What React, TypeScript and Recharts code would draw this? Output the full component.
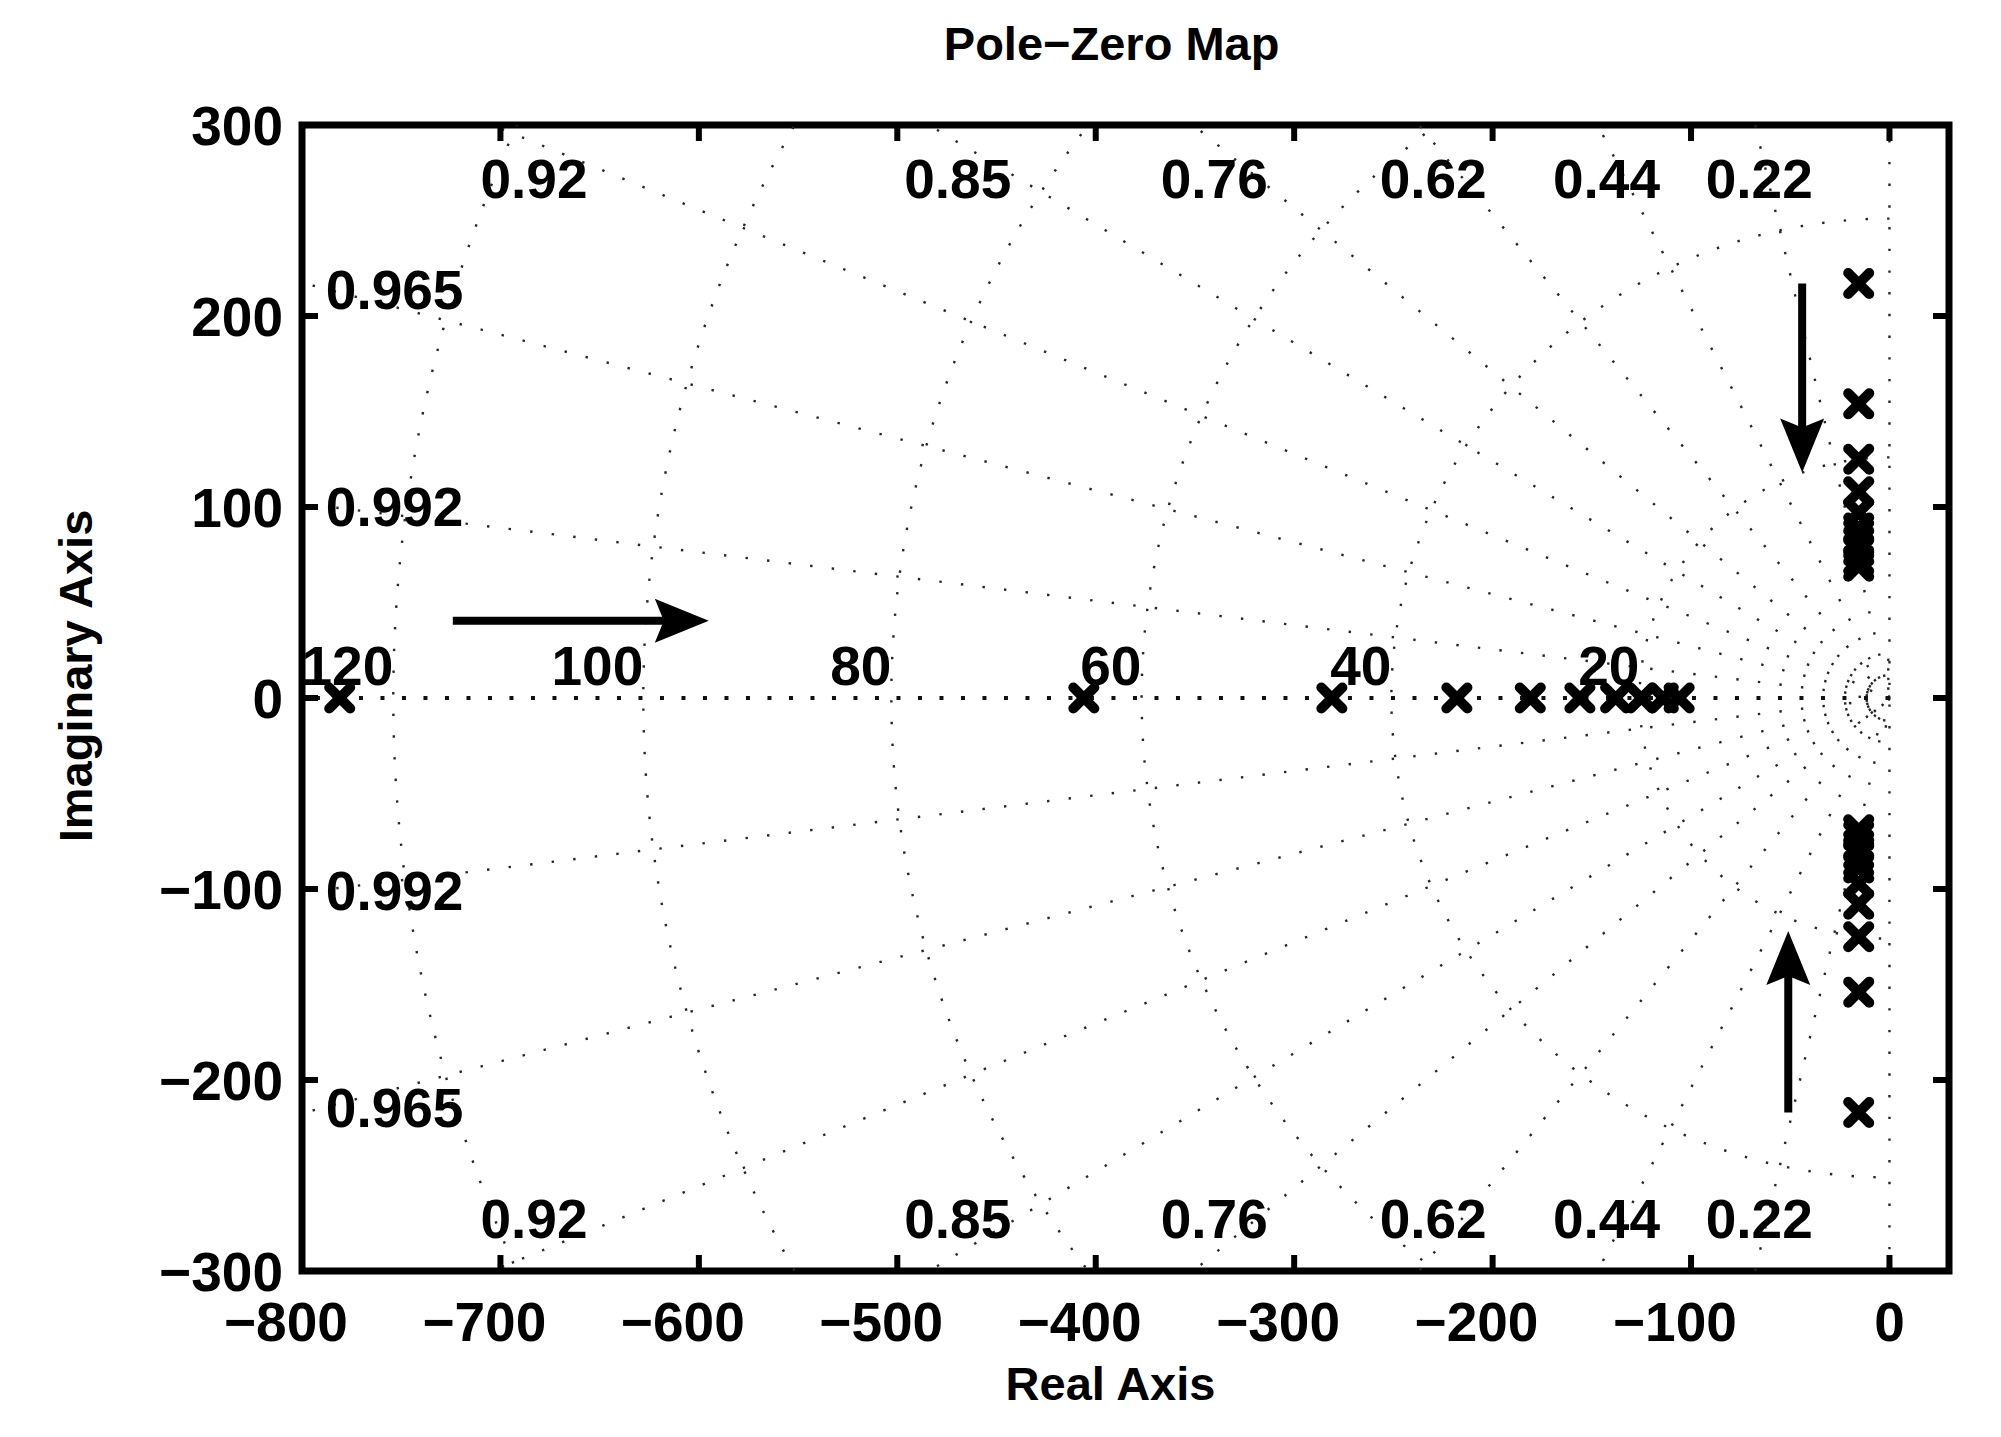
import React from 'react';
import { ScatterChart, Scatter, XAxis, YAxis, ReferenceLine, ReferenceDot, ReferenceArea, Label } from 'recharts';

const FONT = '"Liberation Sans", Arial, Helvetica, sans-serif';

// ---- data ----
const realPoleRe = [-781, -406, -281, -218, -181, -156, -138, -125, -114, -106];
const complexPoleRe = [-15.5, -15.5, -15.5, -15.5, -15.5, -15.5, -15.5, -15.5, -15.5, -15.5];
const complexPoleIm = [217, 154, 125, 108, 97, 89, 82, 77, 72, 69];

const xTicks = [-800, -700, -600, -500, -400, -300, -200, -100, 0];
const yTicks = [-300, -200, -100, 0, 100, 200, 300];

const dampingValues = [0.22, 0.44, 0.62, 0.76, 0.85, 0.92, 0.965, 0.992];
const dampingLabels = ['0.22', '0.44', '0.62', '0.76', '0.85', '0.92', '0.965', '0.992'];
const topLabelDamping = [0.22, 0.44, 0.62, 0.76, 0.85, 0.92];
const sideLabelDamping = [0.965, 0.992];

const wnRadii = [126, 251, 377, 503, 628, 754];
const wnLabels = ['20', '40', '60', '80', '100', '120'];
const smallRadii = [5, 10, 15, 20];

const arrowTailX = [-724, -44, -51];
const arrowTailY = [40.5, 217, -217];
const arrowTipX = [-595, -44, -51];
const arrowTipY = [40.5, 118, -122];

const X_MIN = -800;
const X_MAX = 30;
const Y_MIN = -300;
const Y_MAX = 300;

// ---- derived tables ----
const poles = [
  ...realPoleRe.map((x) => ({ x, y: 0 })),
  ...complexPoleRe.map((x, i) => ({ x, y: complexPoleIm[i] })),
  ...complexPoleRe.map((x, i) => ({ x, y: -complexPoleIm[i] })),
];

const GRID = '#262626';
const GW = 2.4;
const DOT = '2.4 19.3';
const TICK_FS = 55;

const fmt = (v: number) => (v < 0 ? '\u2212' + Math.abs(v) : String(v));

const textStyle = { fontFamily: FONT, fontWeight: 700 as const, fill: '#000' };

const PoleMark = (props: any) => {
  const { cx, cy } = props;
  const s = 10.5;
  return (
    <g stroke="#000" strokeWidth={10} strokeLinecap="round">
      <line x1={cx - s} y1={cy - s} x2={cx + s} y2={cy + s} />
      <line x1={cx - s} y1={cy + s} x2={cx + s} y2={cy - s} />
    </g>
  );
};

// digits centred on the tick, minus sign hanging to the left
const BottomTick = (props: any) => {
  const { x, y, payload } = props;
  const digits = String(Math.abs(payload.value)).length;
  const half = (digits * 0.556 * TICK_FS) / 2;
  return (
    <g>
      <line x1={x} y1={y} x2={x} y2={y - 16} stroke="#000" strokeWidth={6} />
      <text x={x + half} y={y + 70} textAnchor="end" fontSize={TICK_FS} {...textStyle}>
        {fmt(payload.value)}
      </text>
    </g>
  );
};

const LeftTick = (props: any) => {
  const { x, y, payload } = props;
  return (
    <g>
      <line x1={x} y1={y} x2={x + 16} y2={y} stroke="#000" strokeWidth={6} />
      <text x={x - 19} y={y + 20} textAnchor="end" fontSize={TICK_FS} {...textStyle}>
        {fmt(payload.value)}
      </text>
    </g>
  );
};

const TopTickShape = (p: any) => <line x1={p.cx} y1={p.cy} x2={p.cx} y2={p.cy + 16} stroke="#000" strokeWidth={6} />;
const RightTickShape = (p: any) => <line x1={p.cx} y1={p.cy} x2={p.cx - 16} y2={p.cy} stroke="#000" strokeWidth={6} />;

// left half of a natural-frequency circle (s-plane grid)
const ArcShape = (p: any) => {
  const { x1, y1, x2, y2, clipPath } = p;
  const rx = Math.abs(x1 - x2);
  const ry = Math.abs(y1 - y2);
  const d = `M ${x1} ${y1 - ry} A ${rx} ${ry} 0 0 0 ${x1} ${y1 + ry}`;
  return (
    <g clipPath={clipPath}>
      <path d={d} fill="none" stroke={GRID} strokeWidth={GW} strokeDasharray={DOT} />
    </g>
  );
};

const ArrowShape = (p: any) => {
  const { x1, y1, x2, y2 } = p;
  const dx = x2 - x1;
  const dy = y2 - y1;
  const L = Math.hypot(dx, dy) || 1;
  const ux = dx / L;
  const uy = dy / L;
  const nx = -uy;
  const ny = ux;
  const hl = 54;
  const hw = 22;
  const notch = 9;
  const bx = x2 - ux * hl;
  const by = y2 - uy * hl;
  const mx = x2 - ux * (hl - notch);
  const my = y2 - uy * (hl - notch);
  const pts = [
    [x2, y2],
    [bx + nx * hw, by + ny * hw],
    [mx, my],
    [bx - nx * hw, by - ny * hw],
  ]
    .map((q) => q.join(','))
    .join(' ');
  return (
    <g>
      <line x1={x1} y1={y1} x2={mx + ux * 2} y2={my + uy * 2} stroke="#000" strokeWidth={8} />
      <polygon points={pts} fill="#000" />
    </g>
  );
};

const makeText = (label: string, anchor: 'start' | 'middle' | 'end', dx: number, dy: number, size = 55) => (p: any) => (
  <text x={p.cx + dx} y={p.cy + dy} textAnchor={anchor} fontSize={size} {...textStyle}>
    {label}
  </text>
);

export default function App() {
  const W = 2001;
  const H = 1437;
  return (
    <div style={{ position: 'absolute', left: 0, top: 0, width: W, height: H, background: '#fff' }}>
      <ScatterChart width={W} height={H} margin={{ top: 125, right: 52, bottom: 66, left: 102 }}>
        <XAxis
          type="number"
          dataKey="x"
          domain={[X_MIN, X_MAX]}
          ticks={xTicks}
          allowDataOverflow
          height={100}
          tickSize={0}
          tickMargin={0}
          tick={<BottomTick />}
          axisLine={false}
          interval={0}
        >
          <Label
            content={(p: any) => {
              const vb = p.viewBox;
              return (
                <text x={vb.x + vb.width / 2 - 15} y={vb.y + 129} textAnchor="middle" fontSize={47} {...textStyle}>
                  Real Axis
                </text>
              );
            }}
          />
        </XAxis>
        <YAxis
          type="number"
          dataKey="y"
          domain={[Y_MIN, Y_MAX]}
          ticks={yTicks}
          allowDataOverflow
          width={200}
          tickSize={0}
          tickMargin={0}
          tick={<LeftTick />}
          axisLine={false}
          interval={0}
        >
          <Label
            content={(p: any) => {
              const vb = p.viewBox;
              const cx = vb.x - 10;
              const cy = vb.y + vb.height / 2 - 22;
              return (
                <text
                  x={cx}
                  y={cy}
                  transform={`rotate(-90 ${cx} ${cy})`}
                  textAnchor="middle"
                  fontSize={47}
                  {...textStyle}
                >
                  Imaginary Axis
                </text>
              );
            }}
          />
        </YAxis>

        {/* natural-frequency circles */}
        {[...smallRadii, ...wnRadii].map((r, i) => (
          <ReferenceLine
            key={'c' + i}
            segment={[{ x: 0, y: 0 }, { x: -r, y: r }]}
            ifOverflow="hidden"
            shape={ArcShape}
          />
        ))}

        {/* damping lines */}
        {dampingValues.map((z, i) => {
          const s = Math.sqrt(1 - z * z);
          return [1, -1].map((sg) => (
            <ReferenceLine
              key={'d' + i + sg}
              segment={[{ x: 0, y: 0 }, { x: -1500 * z, y: sg * 1500 * s }]}
              ifOverflow="hidden"
              stroke={GRID}
              strokeWidth={GW}
              strokeDasharray={DOT}
            />
          ));
        })}
        {/* zeta = 0 (imaginary axis) and zeta = 1 (real axis) */}
        <ReferenceLine
          segment={[{ x: 0, y: Y_MIN }, { x: 0, y: Y_MAX }]}
          ifOverflow="hidden"
          stroke={GRID}
          strokeWidth={GW}
          strokeDasharray={DOT}
        />
        <ReferenceLine
          segment={[{ x: 0, y: 0 }, { x: X_MIN, y: 0 }]}
          ifOverflow="hidden"
          stroke="#111"
          strokeWidth={4}
          strokeDasharray="4 17.5"
        />

        {/* damping labels */}
        {topLabelDamping.map((z) => {
          const idx = dampingValues.indexOf(z);
          const x = (-291 * z) / Math.sqrt(1 - z * z);
          return [1, -1].map((sg) => (
            <ReferenceDot
              key={'tl' + z + sg}
              x={x}
              y={sg * 272}
              ifOverflow="visible"
              shape={makeText(dampingLabels[idx], 'middle', 0, 20)}
            />
          ));
        })}
        {sideLabelDamping.map((z) => {
          const idx = dampingValues.indexOf(z);
          const y = (788 * Math.sqrt(1 - z * z)) / z;
          return [1, -1].map((sg) => (
            <ReferenceDot
              key={'sl' + z + sg}
              x={-788}
              y={sg * y}
              ifOverflow="visible"
              shape={makeText(dampingLabels[idx], 'start', 0, 20)}
            />
          ));
        })}
        {/* natural frequency labels */}
        {wnRadii.map((r, i) => (
          <ReferenceDot
            key={'wl' + i}
            x={-r}
            y={0}
            ifOverflow="visible"
            shape={makeText(wnLabels[i], 'end', 0, -13)}
          />
        ))}

        <Scatter data={poles} isAnimationActive={false} shape={PoleMark} />

        {/* annotation arrows */}
        {arrowTailX.map((tx, i) => (
          <ReferenceLine
            key={'a' + i}
            segment={[{ x: tx, y: arrowTailY[i] }, { x: arrowTipX[i], y: arrowTipY[i] }]}
            ifOverflow="visible"
            shape={ArrowShape}
          />
        ))}

        {/* box with ticks on top and right */}
        <ReferenceArea
          x1={X_MIN}
          x2={X_MAX}
          y1={Y_MIN}
          y2={Y_MAX}
          ifOverflow="visible"
          fill="none"
          fillOpacity={0}
          stroke="#000"
          strokeWidth={7}
          strokeOpacity={1}
        />
        {xTicks.map((t) => (
          <ReferenceDot key={'tt' + t} x={t} y={Y_MAX} ifOverflow="visible" shape={TopTickShape} />
        ))}
        {yTicks.map((t) => (
          <ReferenceDot key={'rt' + t} x={X_MAX} y={t} ifOverflow="visible" shape={RightTickShape} />
        ))}

        {/* title */}
        <ReferenceDot
          x={-392}
          y={Y_MAX}
          ifOverflow="visible"
          shape={makeText('Pole\u2212Zero Map', 'middle', 0, -65, 47)}
        />
      </ScatterChart>
    </div>
  );
}
